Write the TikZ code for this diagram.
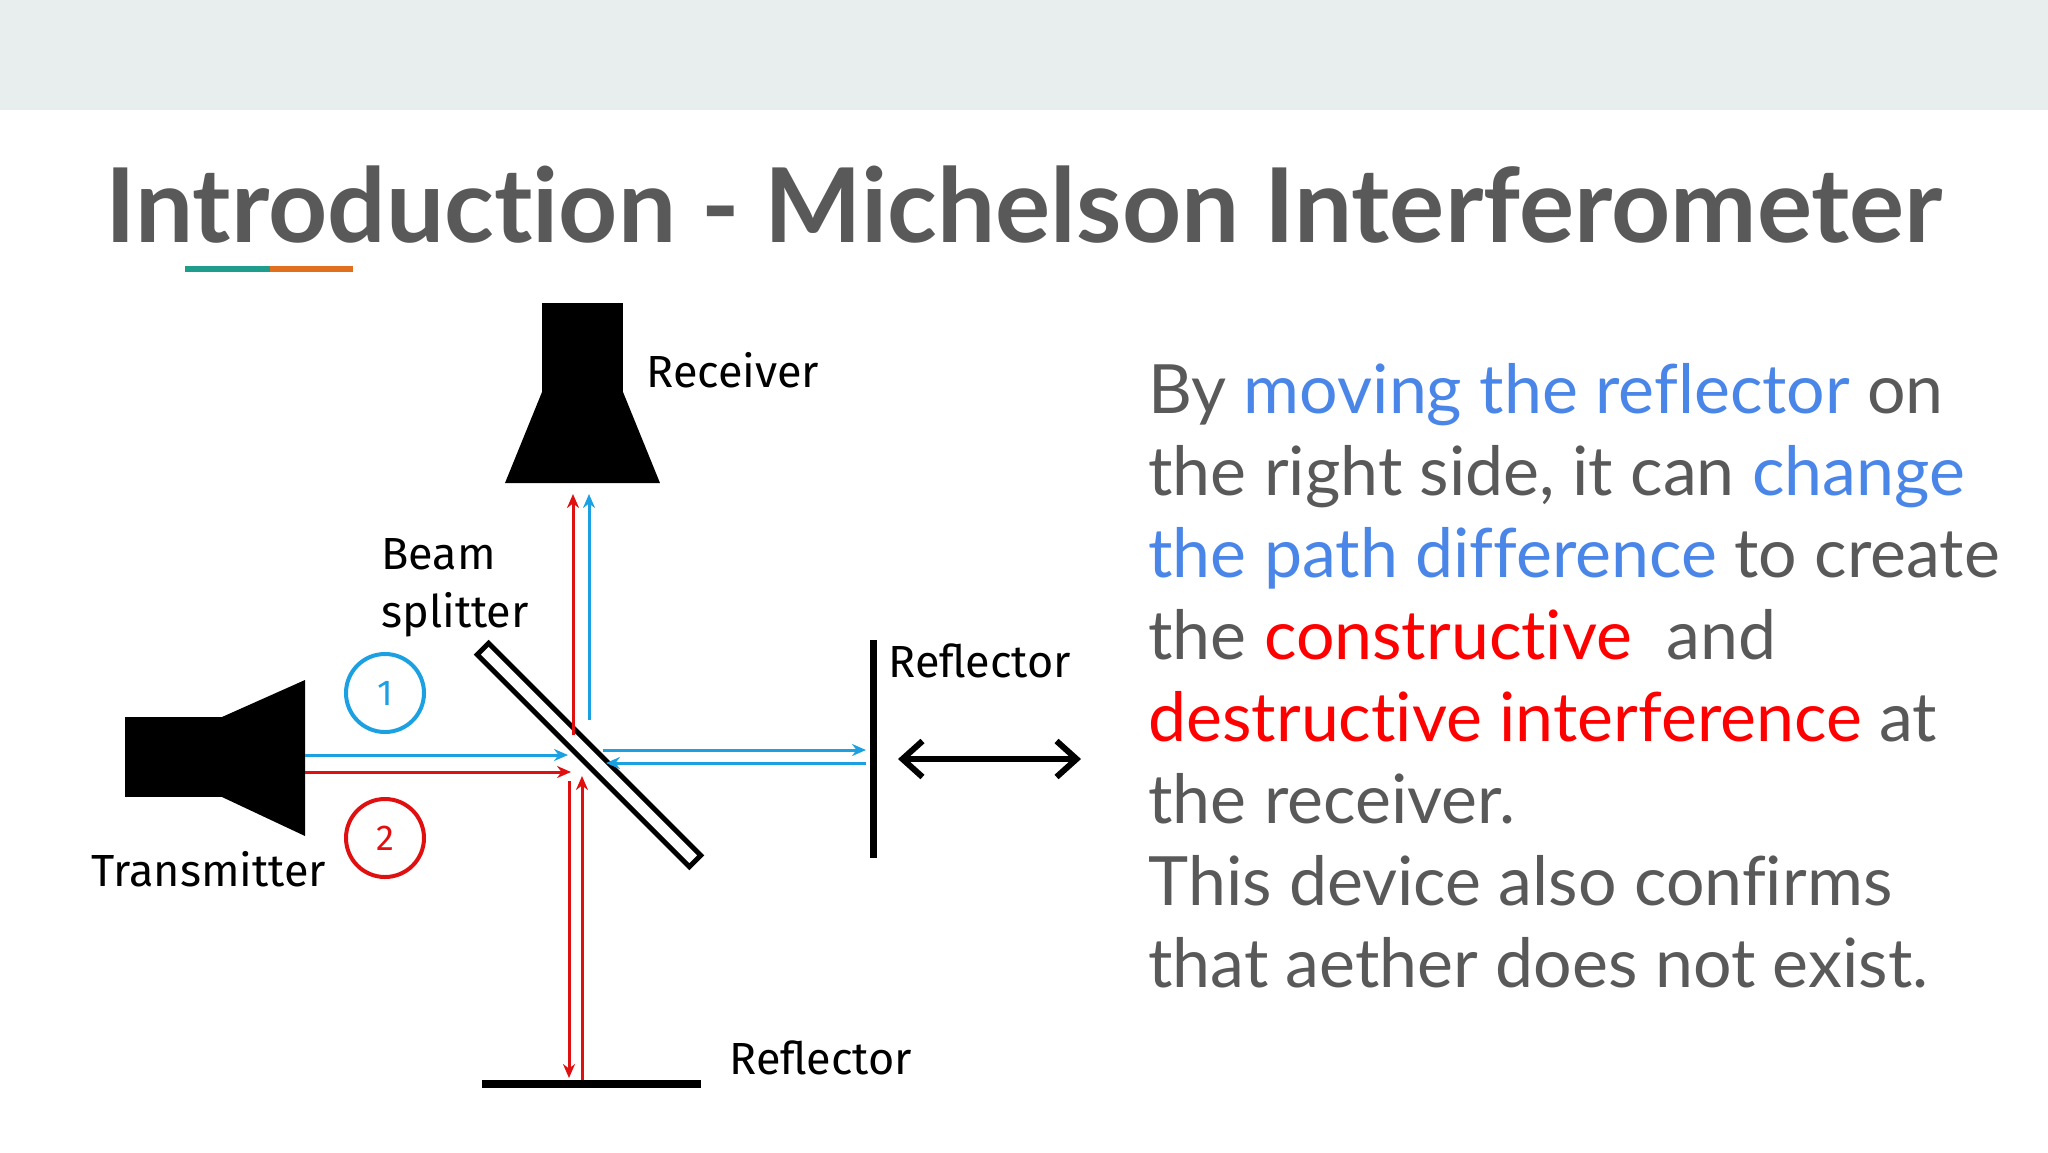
\documentclass[tikz,border=0pt]{standalone}
\usepackage{fontspec}
\setmainfont{Lato}[Ligatures={NoCommon,NoRequired,NoContextual}]
\newfontfamily\lbl{Fira Sans}
\usetikzlibrary{arrows.meta}
\definecolor{band}{HTML}{E8EDED}
\definecolor{txt}{HTML}{595959}
\definecolor{hb}{HTML}{4A86E8}
\definecolor{hr}{HTML}{FF0000}
\definecolor{cb}{HTML}{1BA1E2}
\definecolor{cr}{HTML}{E01010}
\definecolor{teal}{HTML}{1E9C8C}
\definecolor{orng}{HTML}{E0701E}
\tikzset{
  beam/.style={line width=1.5pt,-{Stealth[length=7pt,width=6pt]}},
  lab/.style={font=\lbl\fontsize{22.5}{25}\selectfont,inner sep=0pt},
  num/.style={circle,draw,line width=2pt,minimum size=78*0.5pt,inner sep=0pt,font=\lbl\fontsize{18}{20}\selectfont},
  para/.style={anchor=base west,inner sep=0pt,text=txt,font=\fontsize{34}{41}\selectfont},
}
\begin{document}
\begin{tikzpicture}[x=0.5pt,y=-0.5pt]
\useasboundingbox (0,0) rectangle (2048,1152);
\fill[white] (0,0) rectangle (2048,1152);
\fill[band] (0,0) rectangle (2048,110);
\node[text=txt,font=\bfseries\fontsize{51.6}{60}\selectfont,anchor=base,inner sep=0pt] (title) at (1024,242) {Introduction - Michelson Interferometer};
\fill[teal] (185,266) rectangle (270,272);
\fill[orng] (270,266) rectangle (353,272);
% receiver
\fill (542,303) rectangle (623,392);
\fill (542,392) -- (623,392) -- (660,483) -- (505,483) -- cycle;
\node[lab,anchor=west] (receiver) at (646,370) {Receiver};
% transmitter
\fill (125,717) rectangle (222,797);
\fill (222,717) -- (305,680) -- (305,836) -- (222,797) -- cycle;
\node[lab,anchor=west] (transmitter) at (91,869) {Transmitter};
% beam splitter
\draw[line width=2.5pt,rotate around={-45:(589,755)}] (439,747) rectangle (739,763);
\node[lab,anchor=west,align=left] (bslabel) at (381,588) {Beam\\[4pt]splitter};
% right reflector
\draw[line width=3.5pt] (873,640) -- (873,858);
\node[lab,anchor=west] (rref) at (888,661) {Reflector};
\draw[line width=3pt,{Straight Barb[length=10pt,width=18pt]}-{Straight Barb[length=10pt,width=18pt]}] (898,759) -- (1081,759);
% bottom reflector
\fill (482,1080) rectangle (701,1088);
\node[lab,anchor=west] (bref) at (729,1058) {Reflector};
% numbers
\node[num,draw=cb,text=cb] (n1) at (385,693) {1};
\node[num,draw=cr,text=cr] (n2) at (385,838) {2};
% beams
\draw[beam,cb] (305,755) -- (568,755);
\draw[beam,cr] (305,772) -- (571,772);
\draw[beam,cb] (603,750) -- (866,750);
\draw[beam,cb] (866,763) -- (606,763);
\draw[beam,cr] (573,735) -- (573,494);
\draw[beam,cb] (589,720) -- (589,494);
\draw[beam,cr] (569,781) -- (569,1078);
\draw[beam,cr] (582,1080) -- (582,776);
% text
\node[para] (l1) at (1148,413) {By \textcolor{hb}{moving the reflector} on};
\node[para] (l2) at (1148,495) {the right side, it can \textcolor{hb}{change}};
\node[para] (l3) at (1148,577) {\textcolor{hb}{the path difference} to create};
\node[para] (l4) at (1148,659) {the \textcolor{hr}{constructive}\ \ and};
\node[para] (l5) at (1148,741) {\textcolor{hr}{destructive interference} at};
\node[para] (l6) at (1148,823) {the receiver.};
\node[para] (l7) at (1148,905) {This device also confirms};
\node[para] (l8) at (1148,987) {that aether does not exist.};
\end{tikzpicture}
\end{document}
